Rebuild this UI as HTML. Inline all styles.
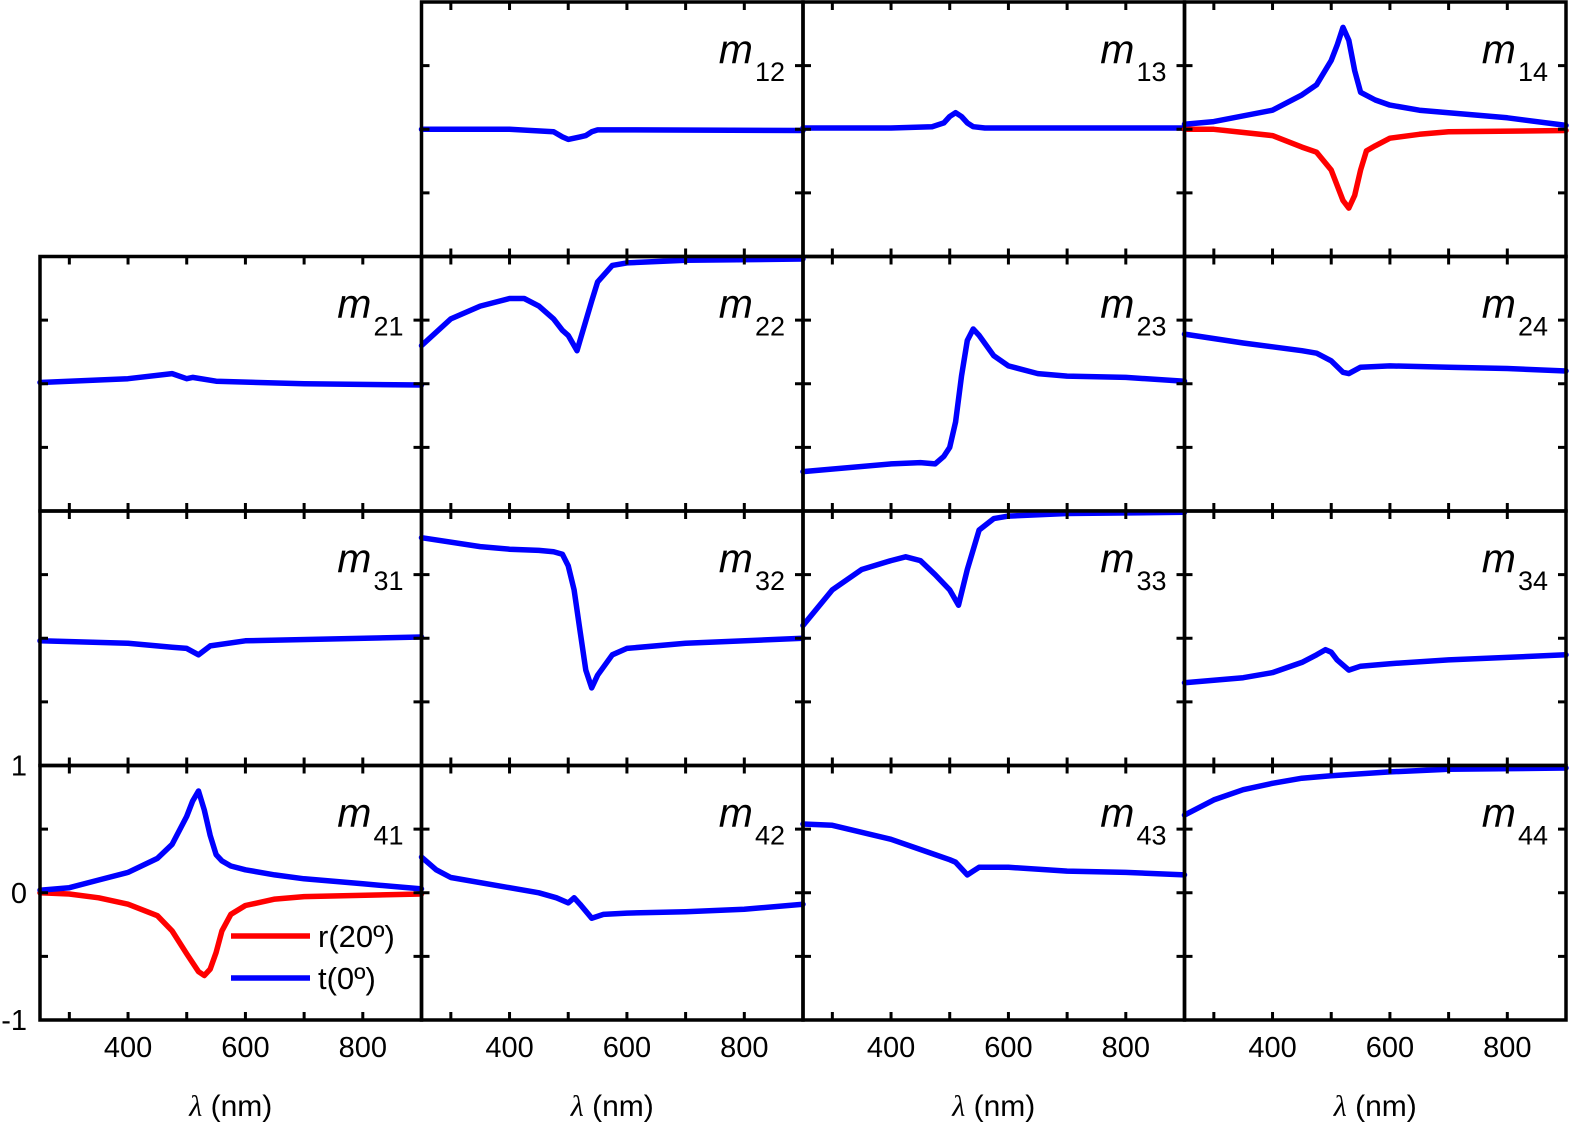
<!DOCTYPE html>
<html><head><meta charset="utf-8"><style>
html,body{margin:0;padding:0;background:#fff;}
svg{display:block;font-family:"Liberation Sans",sans-serif;}
</style></head><body>
<svg id="chart" width="1571" height="1126" viewBox="0 0 1571 1126" xmlns="http://www.w3.org/2000/svg"></svg>
<script>
const xTicks=[300,400,500,600,700,800];
const xTickLabels=[400,600,800];
const yTicks=[-0.5,0,0.5];
const yTickLabels=["1","0","-1"];

const m12_lam=[250,400,475,490,500,510,520,530,540,550,600,900];
const m12_val=[0,0,-0.02,-0.06,-0.08,-0.07,-0.06,-0.05,-0.02,-0.005,-0.005,-0.01];
const m13_lam=[250,400,470,490,500,510,520,530,540,560,900];
const m13_val=[0.01,0.01,0.02,0.05,0.1,0.13,0.1,0.05,0.02,0.01,0.01];
const m14b_lam=[250,300,400,450,475,500,510,520,530,540,550,575,600,650,700,800,900];
const m14b_val=[0.04,0.06,0.15,0.27,0.35,0.54,0.66,0.8,0.7,0.46,0.29,0.23,0.19,0.15,0.13,0.09,0.03];
const m14r_lam=[250,300,400,450,475,500,520,530,540,550,560,575,600,650,700,900];
const m14r_val=[0,0,-0.05,-0.14,-0.18,-0.32,-0.56,-0.62,-0.52,-0.32,-0.17,-0.13,-0.07,-0.04,-0.02,-0.01];
const m21_lam=[250,400,475,500,510,550,700,900];
const m21_val=[0.01,0.04,0.08,0.04,0.05,0.02,0,-0.01];
const m22_lam=[250,300,350,400,425,450,475,490,500,510,515,520,540,550,575,600,700,900];
const m22_val=[0.3,0.51,0.61,0.67,0.67,0.61,0.51,0.42,0.38,0.3,0.26,0.34,0.65,0.8,0.93,0.95,0.97,0.98];
const m23_lam=[250,400,450,475,490,500,510,520,530,540,550,575,600,650,700,800,900];
const m23_val=[-0.69,-0.63,-0.62,-0.63,-0.57,-0.5,-0.3,0.06,0.34,0.43,0.38,0.22,0.14,0.08,0.06,0.05,0.02];
const m24_lam=[250,350,400,450,475,500,520,530,550,600,700,800,900];
const m24_val=[0.39,0.32,0.29,0.26,0.24,0.18,0.09,0.08,0.13,0.14,0.13,0.12,0.1];
const m31_lam=[250,400,475,500,520,540,600,900];
const m31_val=[-0.02,-0.04,-0.07,-0.08,-0.13,-0.06,-0.02,0.01];
const m32_lam=[250,350,400,450,475,490,500,510,520,530,540,550,575,600,700,900];
const m32_val=[0.79,0.72,0.7,0.69,0.68,0.66,0.57,0.38,0.06,-0.25,-0.39,-0.29,-0.13,-0.08,-0.04,0];
const m33_lam=[250,300,350,400,425,450,475,500,510,515,530,550,575,600,700,900];
const m33_val=[0.1,0.38,0.54,0.61,0.64,0.61,0.5,0.38,0.3,0.26,0.54,0.85,0.94,0.96,0.98,0.99];
const m34_lam=[250,350,400,450,475,490,500,510,530,550,600,700,900];
const m34_val=[-0.35,-0.31,-0.27,-0.19,-0.13,-0.09,-0.11,-0.17,-0.25,-0.22,-0.2,-0.17,-0.13];
const m41b_lam=[250,300,350,400,450,475,500,510,520,530,540,550,560,575,600,650,700,800,900];
const m41b_val=[0.02,0.04,0.1,0.16,0.27,0.38,0.6,0.72,0.8,0.65,0.45,0.3,0.25,0.21,0.18,0.14,0.11,0.07,0.03];
const m41r_lam=[250,300,350,400,450,475,500,520,530,540,550,560,575,600,650,700,900];
const m41r_val=[0,-0.01,-0.04,-0.09,-0.18,-0.3,-0.48,-0.62,-0.65,-0.6,-0.47,-0.3,-0.17,-0.1,-0.05,-0.03,-0.01];
const m42_lam=[250,275,300,400,450,480,500,510,520,540,560,600,700,800,900];
const m42_val=[0.28,0.18,0.12,0.04,0,-0.04,-0.08,-0.04,-0.09,-0.2,-0.17,-0.16,-0.15,-0.13,-0.09];
const m43_lam=[250,300,400,450,475,500,510,530,540,550,600,700,800,900];
const m43_val=[0.54,0.53,0.42,0.34,0.3,0.26,0.24,0.14,0.17,0.2,0.2,0.17,0.16,0.14];
const m44_lam=[250,300,350,400,450,500,600,700,900];
const m44_val=[0.61,0.73,0.81,0.86,0.9,0.92,0.95,0.97,0.98];

const panels=[
 {r:0,c:1,name:"12",s:[[m12_lam,m12_val,"#0000ff"]]},
 {r:0,c:2,name:"13",s:[[m13_lam,m13_val,"#0000ff"]]},
 {r:0,c:3,name:"14",s:[[m14r_lam,m14r_val,"#ff0000"],[m14b_lam,m14b_val,"#0000ff"]]},
 {r:1,c:0,name:"21",s:[[m21_lam,m21_val,"#0000ff"]]},
 {r:1,c:1,name:"22",s:[[m22_lam,m22_val,"#0000ff"]]},
 {r:1,c:2,name:"23",s:[[m23_lam,m23_val,"#0000ff"]]},
 {r:1,c:3,name:"24",s:[[m24_lam,m24_val,"#0000ff"]]},
 {r:2,c:0,name:"31",s:[[m31_lam,m31_val,"#0000ff"]]},
 {r:2,c:1,name:"32",s:[[m32_lam,m32_val,"#0000ff"]]},
 {r:2,c:2,name:"33",s:[[m33_lam,m33_val,"#0000ff"]]},
 {r:2,c:3,name:"34",s:[[m34_lam,m34_val,"#0000ff"]]},
 {r:3,c:0,name:"41",s:[[m41r_lam,m41r_val,"#ff0000"],[m41b_lam,m41b_val,"#0000ff"]]},
 {r:3,c:1,name:"42",s:[[m42_lam,m42_val,"#0000ff"]]},
 {r:3,c:2,name:"43",s:[[m43_lam,m43_val,"#0000ff"]]},
 {r:3,c:3,name:"44",s:[[m44_lam,m44_val,"#0000ff"]]}
];
const colX=[40,421.5,803,1184.5,1566];
const rowY=[2,256.5,511,765.5,1020];
const NS="http://www.w3.org/2000/svg";
const svg=document.getElementById('chart');
function mk(tag,attrs,parent){const e=document.createElementNS(NS,tag);for(const k in attrs)e.setAttribute(k,attrs[k]);(parent||svg).appendChild(e);return e;}
function xs(c,l){return colX[c]+(l-250)/650*(colX[c+1]-colX[c]);}
function ys(r,v){return rowY[r]+(1-v)/2*(rowY[r+1]-rowY[r]);}

panels.forEach(p=>{
 const g=mk('g',{});
 
 
 const x0=colX[p.c],x1=colX[p.c+1],y0=rowY[p.r],y1=rowY[p.r+1];
 p.s.forEach(s=>{
  const d=s[0].map((l,i)=>(i?'L':'M')+xs(p.c,l).toFixed(1)+' '+ys(p.r,s[1][i]).toFixed(1)).join(' ');
  const path=mk('path',{d:d,fill:'none',stroke:s[2],'stroke-width':5.5,'stroke-linejoin':'round','stroke-linecap':'round'},g);
  
  
 });
 xTicks.forEach(t=>{const x=xs(p.c,t);
  mk('line',{x1:x,x2:x,y1:y0,y2:y0+8,stroke:'#000','stroke-width':3},g);
  mk('line',{x1:x,x2:x,y1:y1,y2:y1-8,stroke:'#000','stroke-width':3},g);});
 yTicks.forEach(t=>{const y=ys(p.r,t);
  mk('line',{x1:x0,x2:x0+8,y1:y,y2:y,stroke:'#000','stroke-width':3},g);
  mk('line',{x1:x1,x2:x1-8,y1:y,y2:y,stroke:'#000','stroke-width':3},g);});
 const rect=mk('rect',{x:x0,y:y0,width:x1-x0,height:y1-y0,fill:'none',stroke:'#000','stroke-width':3.5},g);
 
 
 const t=mk('text',{x:x1-18,y:y0+79,'text-anchor':'end',fill:'#000'},g);
 
 
 const m=mk('tspan',{'font-style':'italic','font-size':41,dy:-18},t);m.textContent='m';
 const sub=mk('tspan',{'font-size':27,dy:18,dx:2},t);sub.textContent=p.name;
});

[1,0,-1].forEach((v,i)=>{
 const t=mk('text',{x:27,y:ys(3,v)+10,'text-anchor':'end','font-size':29,fill:'#000'});
 
 
 t.textContent=yTickLabels[i];
});
for(let c=0;c<4;c++){
 xTickLabels.forEach(l=>{
  const t=mk('text',{x:xs(c,l),y:1057,'text-anchor':'middle','font-size':29,fill:'#000'});
  
  
  t.textContent=l;
 });
 const at=mk('text',{x:(colX[c]+colX[c+1])/2,y:1116,'text-anchor':'middle','font-size':30,fill:'#000'});
 
 
 const lt=mk('tspan',{'font-style':'italic','font-family':'Liberation Serif, serif'},at);lt.textContent='λ';
 const rt=mk('tspan',{},at);rt.textContent=' (nm)';
}
const lg=mk('g',{});


[["r(20º)","#ff0000",936],["t(0º)","#0000ff",978]].forEach(e=>{
 const ln=mk('line',{x1:231,x2:310,y1:e[2],y2:e[2],stroke:e[1],'stroke-width':5.5},lg);
 
 
 const t=mk('text',{x:318,y:e[2]+11,'font-size':31,fill:'#000'},lg);
 
 
 t.textContent=e[0];
});
</script>
</body></html>
